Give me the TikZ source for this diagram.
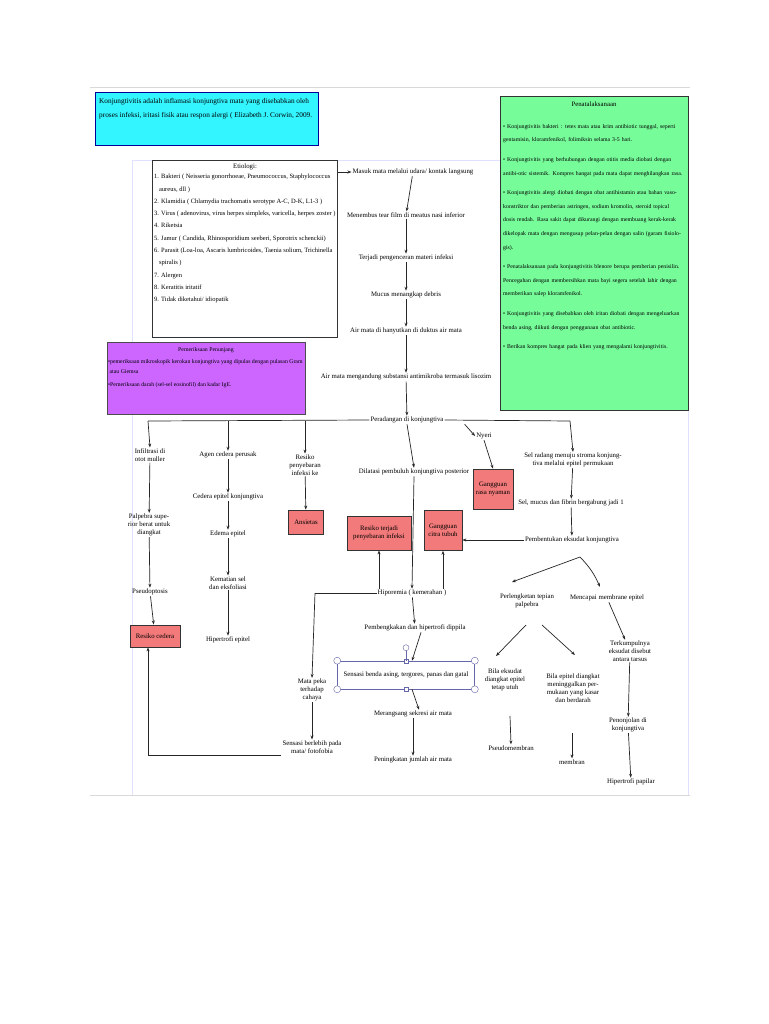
\documentclass[tikz,border=0pt]{standalone}
\usepackage{fontspec}
\setmainfont{Liberation Serif}
\usetikzlibrary{arrows.meta}
\definecolor{cyanb}{HTML}{33F5FF}
\definecolor{greenb}{HTML}{77FC9A}
\definecolor{purpb}{HTML}{CC66FF}
\definecolor{redb}{HTML}{F27A7A}
\begin{document}
\begin{tikzpicture}[x=1pt,y=-1pt,
  t/.style={font=\fontsize{6.8}{7.8}\selectfont,align=center,inner sep=1pt},
  rb/.style={t,draw=black!80,fill=redb,line width=0.8pt,minimum height=22pt},
  a/.style={-{Stealth[length=4pt,width=3pt]},line width=0.7pt,black!85},
  l/.style={line width=0.7pt,black!85}]
\useasboundingbox (0,0) rectangle (768,1024);
\fill[white] (0,0) rectangle (768,1024);
% faint frame
\draw[black!15,line width=1pt] (90,88) -- (690,88);
\draw[black!15,line width=1pt] (90,795) -- (690,795);
\draw[blue!12] (132,160) -- (132,795);
\draw[blue!12] (132,160) -- (500,160);
\draw[blue!12] (688,410) -- (688,795);
% cyan box
\node[draw=blue!60!black,fill=cyanb,line width=0.8pt,minimum width=223pt,minimum height=53pt,anchor=north west,inner sep=3pt] (def) at (95,92) {};
\node[t,align=left,anchor=north west,font=\fontsize{7.3}{14}\selectfont] (deft) at (98,97) {Konjungtivitis adalah inflamasi konjungtiva mata yang disebabkan oleh\\proses infeksi, iritasi fisik atau respon alergi ( Elizabeth J. Corwin, 2009.};
% etiologi
\node[draw=black!80,line width=0.8pt,minimum width=185pt,minimum height=177pt,anchor=north west] (eti) at (152,160) {};
\node[t,anchor=north] (etit) at (245,163) {Etiologi:};
\node[t,align=left,anchor=north west,font=\fontsize{6.5}{12.3}\selectfont] (etil) at (153,173) {1. Bakteri ( Neisseria gonorrhoeae, Pneumococcus, Staphylococcus\\\ \ \ aureus, dll )\\2. Klamidia ( Chlamydia trachomatis serotype A-C, D-K, L1-3 )\\3. Virus ( adenovirus, virus herpes simpleks, varicella, herpes zoster )\\4. Riketsia\\5. Jamur ( Candida, Rhinosporidium seeberi, Sporotrix schenckii)\\6. Parasit (Loa-loa, Ascaris lumbricoides, Taenia solium, Trichinella\\\ \ \ spiralis )\\7. Alergen\\8. Keratitis iritatif\\9. Tidak diketahui/ idiopatik};
% green box
\node[draw=black!80,fill=greenb,line width=0.8pt,minimum width=188pt,minimum height=314pt,anchor=north west] (pen) at (500,96) {};
\node[t,anchor=north] (pent) at (594,101) {Penatalaksanaan};
\node[t,align=left,anchor=north west,text width=180pt,font=\fontsize{5.8}{13.6}\selectfont] (penl) at (502,123) {%
\textbullet\ Konjungtivitis bakteri : tetes mata atau krim antibiotic tunggal, seperti gentamisin, kloramfenikol, folimiksin selama 3-5 hari.\\[6pt]
\textbullet\ Konjungtivitis yang berhubungan dengan otitis media diobati dengan antibi-otic sistemik. Kompres hangat pada mata dapat menghilangkan rasa.\\[6pt]
\textbullet\ Konjungtivitis alergi diobati dengan obat antihistamin atau bahan vaso-konstriktor dan pemberian astringen, sodium kromolin, steroid topical dosis rendah. Rasa sakit dapat dikurangi dengan membuang kerak-kerak dikelopak mata dengan mengusap pelan-pelan dengan salin (garam fisiologis).\\[6pt]
\textbullet\ Penatalaksanaan pada konjungtivitis blenore berupa pemberian penisilin. Pencegahan dengan membersihkan mata bayi segera setelah lahir dengan memberikan salep kloramfenikol.\\[6pt]
\textbullet\ Konjungtivitis yang disebabkan oleh iritan diobati dengan mengeluarkan benda asing, diikuti dengan penggunaan obat antibiotic.\\[6pt]
\textbullet\ Berikan kompres hangat pada klien yang mengalami konjungtivitis.};
% purple box
\node[draw=black!70,fill=purpb,line width=0.8pt,minimum width=198pt,minimum height=72pt,anchor=north west] (pem) at (107,342) {};
\node[t,anchor=north,font=\fontsize{5.8}{7}\selectfont] (pemt) at (206,346) {Pemeriksaan Penunjang};
\node[t,align=left,anchor=north west,font=\fontsize{5.8}{10}\selectfont] (peml) at (107,358) {\textbullet pemeriksaan mikroskopik kerokan konjungtiva yang dipulas dengan pulasan Gram\\\ atau Giemsa\\[3pt]\textbullet Pemeriksaan darah (sel-sel eosinofil) dan kadar IgE.};
% central column
\node[t] (c1) at (413,172) {Masuk mata melalui udara/ kontak langsung};
\node[t] (c2) at (406,215) {Menembus tear film di meatus nasi inferior};
\node[t] (c3) at (406,258) {Terjadi pengenceran materi infeksi};
\node[t] (c4) at (406,295) {Mucus menangkap debris};
\node[t] (c5) at (406,331) {Air mata di hanyutkan di duktus air mata};
\node[t] (c6) at (406,377) {Air mata mengandung substansi antimikroba termasuk lisozim};
\node[t] (c7) at (407,420) {Peradangan di konjungtiva};
\draw[a] (eti.east |- c1) -- (c1.west);
\draw[a] (c1) -- (c2);
\draw[a] (c2) -- (c3);
\draw[a] (c3) -- (c4);
\draw[a] (c4) -- (c5);
\draw[a] (c5) -- (c6);
\draw[a] (c6) -- (c7);
% left branches
\node[t] (l1) at (150,455) {Infiltrasi di\\otot muller};
\node[t] (l2) at (149,525) {Palpebra supe-\\rior berat untuk\\diangkat};
\node[t] (l3) at (150,592) {Pseudoptosis};
\node[rb,minimum width=50pt,minimum height=22pt] (l4) at (155,636) {Resiko cedera};
\node[t] (m1) at (228,455) {Agen cedera perusak};
\node[t] (m2) at (228,497) {Cedera epitel konjungtiva};
\node[t] (m3) at (228,534) {Edema epitel};
\node[t] (m4) at (228,583) {Kematian sel\\dan eksfoliasi};
\node[t] (m5) at (228,640) {Hipertrofi epitel};
\node[t] (r1) at (305,465) {Resiko\\penyebaran\\infeksi ke};
\node[rb,minimum width=35pt,minimum height=24pt] (r2) at (306,522) {Ansietas};
\coordinate (jL) at (148,421);
\coordinate (jM) at (228,421);
\coordinate (jR) at (305,421);
\coordinate (jE) at (570,421);
\draw[l] (c7.west) -- (jL);
\draw[a] (jL) -- (l1.north);
\draw[a] (jM) -- (m1.north);
\draw[a] (jR) -- (r1.north);
\draw[l] (c7.east) -- (jE);
\draw[a] (l1) -- (l2);
\draw[a] (l2) -- (l3);
\draw[a] (l3) -- (l4);
\draw[a] (m1) -- (m2);
\draw[a] (m2) -- (m3);
\draw[a] (m3) -- (m4);
\draw[a] (m4) -- (m5);
\draw[a] (r1) -- (r2);
% middle
\node[t] (d1) at (414,472) {Dilatasi pembuluh konjungtiva posterior};
\node[t] (ny) at (484,436) {Nyeri};
\node[rb,minimum width=40pt,minimum height=40pt] (gn) at (493,489) {Gangguan\\rasa nyaman};
\node[rb,minimum width=64pt,minimum height=34pt] (ri) at (379,533) {Resiko terjadi\\penyebaran infeksi};
\node[rb,minimum width=38pt,minimum height=40pt,anchor=north] (gc) at (443,510) {Gangguan\\citra tubuh};
\node[t] (hp) at (412,593) {Hiporemia ( kemerahan )};
\node[t] (pb) at (415,628) {Pembengkakan dan hipertrofi dippila};
\node[t,draw=blue!45!black!60,line width=0.6pt,minimum width=137pt,minimum height=28pt] (ss) at (406,675) {Sensasi benda asing, tergores, panas dan gatal};
\foreach \p in {north west,north east,south west,south east}
  \draw[blue!45!black!60,fill=white] (ss.\p) circle (3.5pt);
\foreach \p in {north,south}
  \draw[blue!45!black!60,fill=white] ([xshift=0pt]ss.\p) ++(-2,-2) rectangle ++(4,4);
\draw[blue!45!black!60,line width=0.6pt] (ss.north) -- ++(0,-13) coordinate (hd);
\draw[blue!45!black!60,fill=white] (hd) circle (3pt);
\node[t] (ms) at (413,714) {Merangsang sekresi air mata};
\node[t] (pj) at (413,760) {Peningkatan jumlah air mata};
\node[t] (mp) at (312,690) {Mata peka\\terhadap\\cahaya};
\node[t] (sb) at (312,747) {Sensasi berlebih pada\\mata/ fotofobia};
\draw[a] (c7.south) -- (d1.north);
\draw[a] ([xshift=20pt]c7.south east) -- (ny.west);
\draw[a] (ny.south) -- (gn.north);
\draw[a] (d1.south) -- (hp.north);
\draw[a] (ri.south |- hp.north) -- (ri.south);
\draw[a] (gc.south |- hp.north) -- (gc.south);
\draw[a] (hp) -- (pb);
\draw[a] ([xshift=6pt]pb.south) -- ([xshift=6pt]ss.north);
\draw[a] ([xshift=6pt]ss.south) -- ([xshift=6pt]ms.north);
\draw[a] (ms) -- (pj);
\coordinate (hk) at (315,593);
\draw[l] (hp.west) -- (hk);
\draw[a] (hk) -- (mp.north);
\draw[a] (mp) -- (sb);
\coordinate (sk) at (148,755);
\draw[l] (sb.west |- sk) -- (sk);
\draw[a] (sk) -- (l4.south -| sk);
% right column
\node[t] (e1) at (573,460) {Sel radang menuju stroma konjung-\\tiva melalui epitel permukaan};
\node[t] (e2) at (571,503) {Sel, mucus dan fibrin bergabung jadi 1};
\node[t] (e3) at (572,540) {Pembentukan eksudat konjungtiva};
\draw[a] (jE) -- (e1.north);
\draw[a] (e1) -- (e2);
\draw[a] (e2) -- (e3);
\draw[a] (e3.west) -- (gc.east |- e3);
\coordinate (fk) at (580,557);
\node[t] (pl) at (527,601) {Perlengketan tepian\\palpebra};
\node[t] (mc) at (607,598) {Mencapai membrane epitel};
\draw[a] (fk) -- (512,582);
\draw[a] (fk) to[bend left=10] (600,587);
\node[t] (b1) at (505,680) {Bila eksudat\\diangkat epitel\\tetap utuh};
\node[t] (b2) at (573,688) {Bila epitel diangkat\\meninggalkan per-\\mukaan yang kasar\\dan berdarah};
\draw[a] (526,625) -- (496,656);
\draw[a] (542,625) -- (575,655);
\node[t] (ps) at (511,748) {Pseudomembran};
\node[t] (mb) at (572,762) {membran};
\draw[a] (510,716) -- (ps.north);
\draw[a] (572,733) -- (mb.north);
\node[t] (k1) at (630,651) {Terkumpulnya\\eksudat disebut\\antara tarsus};
\node[t] (k2) at (628,725) {Penonjolan di\\konjungtiva};
\node[t] (k3) at (631,782) {Hipertrofi papilar};
\draw[a] (mc) -- (k1);
\draw[a] (k1) -- (k2);
\draw[a] (k2) -- (k3);
\end{tikzpicture}
\end{document}
